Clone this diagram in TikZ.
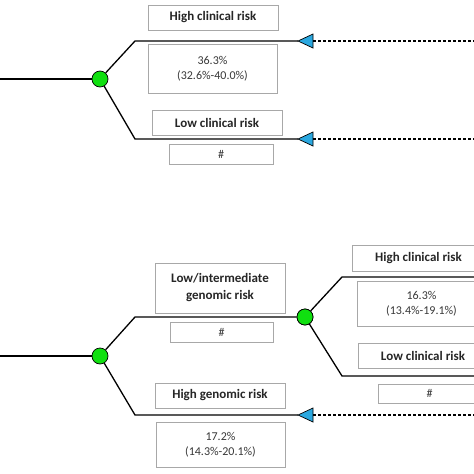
\documentclass[tikz,border=0pt]{standalone}
\usepackage{fontspec}
\setmainfont{Carlito}
\usetikzlibrary{positioning}
\definecolor{nodegreen}{HTML}{10E010}
\definecolor{triblue}{HTML}{2AA8E0}
\definecolor{boxgray}{HTML}{A8A8A8}
\definecolor{numgray}{HTML}{383838}
\tikzset{
  branch/.style={draw=black, line width=1.3pt},
  dashline/.style={draw=black, line width=1.1pt, dash pattern=on 3pt off 2pt},
  chance/.style={circle, draw=black, line width=0.7pt, fill=nodegreen, minimum size=16pt, inner sep=0pt},
  tri/.style={draw=black, line width=0.7pt, fill=triblue, line join=miter},
  box/.style={draw=boxgray, line width=0.8pt, fill=white, inner sep=0pt, align=center},
  lbl/.style={box, font=\fontsize{13}{17}\selectfont\bfseries, text=black!85},
  num/.style={box, font=\fontsize{12}{15}\selectfont, text=numgray},
}
\begin{document}
\begin{tikzpicture}[x=1pt, y=-1pt]
\useasboundingbox (0,0) rectangle (474,474);
\clip (0,0) rectangle (474,474);
% ---- top tree ----
\coordinate (s1) at (0,79);
\node[chance] (c1) at (100,79) {};
\coordinate (u1) at (135,41);
\coordinate (d1) at (135,139);
\coordinate (t1) at (298,41);
\coordinate (t2) at (298,139);
\coordinate (e1) at (474,41);
\coordinate (e2) at (474,139);
\draw[branch] (s1) -- (c1);
\draw[branch] (c1) -- (u1) -- (t1);
\draw[branch] (c1) -- (d1) -- (t2);
\draw[tri] (t1) -- ++(15,-7) -- ++(0,14) -- cycle;
\draw[tri] (t2) -- ++(15,-7) -- ++(0,14) -- cycle;
\draw[dashline] ([xshift=15pt]t1) -- (e1);
\draw[dashline] ([xshift=15pt]t2) -- (e2);
\node[lbl, minimum width=130pt, minimum height=25pt] (hc1) at (213,17.5) {High clinical risk};
\node[num, minimum width=129pt, minimum height=49pt] (p1) at (212.5,68.5) {36.3\%\\(32.6\%-40.0\%)};
\node[lbl, minimum width=130pt, minimum height=25pt] (lc1) at (217,122.5) {Low clinical risk};
\node[num, minimum width=104pt, minimum height=20pt] (h1) at (221,154) {\#};
% ---- bottom tree ----
\coordinate (s2) at (0,356);
\node[chance] (c2) at (100,356) {};
\coordinate (u2) at (135,317);
\coordinate (d2) at (135,415);
\node[chance] (c3) at (305,317) {};
\coordinate (t3) at (298,415);
\coordinate (e3) at (474,415);
\coordinate (u3) at (342,277);
\coordinate (d3) at (342,376);
\coordinate (e4) at (480,277);
\coordinate (e5) at (480,376);
\draw[branch] (s2) -- (c2);
\draw[branch] (c2) -- (u2) -- (c3);
\draw[branch] (c2) -- (d2) -- (t3);
\draw[branch] (c3) -- (u3) -- (e4);
\draw[branch] (c3) -- (d3) -- (e5);
\node[chance] at (c3) {};
\draw[tri] (t3) -- ++(15,-7) -- ++(0,14) -- cycle;
\draw[dashline] ([xshift=15pt]t3) -- (e3);
\node[lbl, minimum width=130pt, minimum height=50pt] (lig) at (220,288) {Low/intermediate\\genomic risk};
\node[num, minimum width=103pt, minimum height=20pt] (h2) at (221.5,332) {\#};
\node[lbl, minimum width=130pt, minimum height=25pt] (hg) at (220,395.5) {High genomic risk};
\node[num, minimum width=129pt, minimum height=45pt] (p2) at (220.5,444.5) {17.2\%\\(14.3\%-20.1\%)};
\node[lbl, minimum width=133pt, minimum height=26pt] (hc2) at (418.5,258) {High clinical risk};
\node[num, minimum width=129pt, minimum height=45pt] (p3) at (421.5,303.5) {16.3\%\\(13.4\%-19.1\%)};
\node[lbl, minimum width=130pt, minimum height=25pt] (lc2) at (423,355.5) {Low clinical risk};
\node[num, minimum width=103pt, minimum height=19pt] (h3) at (429.5,393.5) {\#};
\end{tikzpicture}
\end{document}
